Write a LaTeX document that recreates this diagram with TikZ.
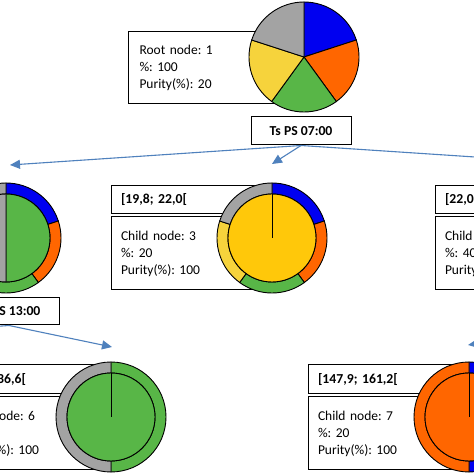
\documentclass[tikz,border=0pt]{standalone}
\usepackage{fontspec}
\setmainfont{Carlito}
\usetikzlibrary{arrows.meta}
\frenchspacing
\definecolor{cblue}{HTML}{0000F0}
\definecolor{corange}{HTML}{FF6600}
\definecolor{cgreen}{HTML}{58B647}
\definecolor{cyellow}{HTML}{F6D33C}
\definecolor{cgold}{HTML}{FFC80A}
\definecolor{cgray}{HTML}{A3A3A3}
\definecolor{arrowblue}{HTML}{4F81BD}
\newcommand{\ringseg}[4]{%
  \filldraw[fill=#4,draw=black,line width=0.9pt,shift={(#1)}]
    (#2:55) arc[start angle=#2,end angle=#3,radius=55] -- (#3:44)
    arc[start angle=#3,end angle=#2,radius=44] -- cycle;}
\newcommand{\pieseg}[5]{%
  \filldraw[fill=#5,draw=black,line width=0.9pt,shift={(#1)}]
    (0,0) -- (#2:#4) arc[start angle=#2,end angle=#3,radius=#4] -- cycle;}
\newcommand{\fulldisk}[2]{%
  \filldraw[fill=#2,draw=black,line width=0.9pt,shift={(#1)}] (0,0) circle[radius=44];
  \draw[black,line width=0.9pt,shift={(#1)}] (0,0) -- (90:44);}
\newcommand{\parentring}[1]{%
  \ringseg{#1}{90}{18}{cblue}
  \ringseg{#1}{18}{-54}{corange}
  \ringseg{#1}{-54}{-126}{cgreen}
  \ringseg{#1}{-126}{-198}{cyellow}
  \ringseg{#1}{162}{90}{cgray}}
\tikzset{
  boxst/.style={draw=black,line width=1pt,fill=white,inner ysep=0pt,inner xsep=10pt,align=left},
  infobox/.style={boxst,text width=134pt,minimum height=73pt,font=\fontsize{13.5}{17}\selectfont},
  labelbox/.style={boxst,text width=134pt,minimum height=28pt,font=\fontsize{13.7}{16}\selectfont\bfseries},
  tsbox/.style={draw=black,line width=1pt,fill=white,minimum width=100pt,minimum height=28pt,inner sep=0pt,font=\fontsize{13.7}{16}\selectfont\bfseries},
  conn/.style={draw=arrowblue,line width=1.1pt,-{Triangle[length=10pt,width=9pt]}}
}
\begin{document}
\begin{tikzpicture}[x=1pt,y=1pt]
\useasboundingbox (0,0) rectangle (474,474);
\clip (0,0) rectangle (474,474);
\fill[white] (0,0) rectangle (474,474);

% centres
\coordinate (c1) at (304,417);
\coordinate (c2) at (6,236);
\coordinate (c3) at (272,236);
\coordinate (c6) at (111,57);
\coordinate (c7) at (469,57);
% arrow ends
\coordinate (a2) at (10,309);
\coordinate (a3) at (272,310);
\coordinate (a4) at (596,309);
\coordinate (a5) at (-290,127);
\coordinate (a6) at (112,127);
\coordinate (a7) at (468,129);
\coordinate (ts4s) at (599,149);

% root
\node[boxst,text width=127pt,inner xsep=11pt,minimum height=72pt,font=\fontsize{13.5}{17}\selectfont] (rootbox) at (203,406)
  {Root node: 1\\ \%: 100\\ Purity(\%): 20};
\pieseg{c1}{90}{18}{55}{cblue}
\pieseg{c1}{18}{-54}{55}{corange}
\pieseg{c1}{-54}{-126}{55}{cgreen}
\pieseg{c1}{-126}{-198}{55}{cyellow}
\pieseg{c1}{162}{90}{55}{cgray}
\node[tsbox] (ts1) at (301,343) {Ts PS 07:00};

% left child (node 2)
\parentring{c2}
\pieseg{c2}{90}{-90}{44}{cgreen}
\pieseg{c2}{90}{270}{44}{cgray}
\node[tsbox,minimum height=27pt] (ts2) at (9,162.5) {Ts PS 13:00};

% middle child (node 3)
\node[labelbox] (lab3) at (188,274) {[19,8; 22,0[};
\node[infobox] (inf3) at (188,220.5) {Child node: 3\\ \%: 20\\ Purity(\%): 100};
\parentring{c3}
\fulldisk{c3}{cgold}

% right child (node 4), mostly outside
\node[labelbox] (lab4) at (512,274) {[22,0; 161,2[};
\node[infobox] (inf4) at (512,220.5) {Child node: 4\\ \%: 40\\ Purity(\%): 50};

% node 6
\node[labelbox,minimum height=29pt] (lab6) at (27,94.5) {[22,3; 36,6[};
\node[infobox] (inf6) at (27,40.5) {Child node: 6\\ \%: 20\\ Purity(\%): 100};
\ringseg{c6}{90}{-90}{cgreen}
\ringseg{c6}{90}{270}{cgray}
\fulldisk{c6}{cgreen}

% node 7
\node[labelbox,minimum height=29pt] (lab7) at (385,94.5) {[147,9; 161,2[};
\node[infobox] (inf7) at (385,40.5) {Child node: 7\\ \%: 20\\ Purity(\%): 100};
\ringseg{c7}{90}{-90}{cblue}
\ringseg{c7}{90}{270}{corange}
\fulldisk{c7}{corange}

% connectors
\draw[conn] (ts1.south) -- (a2);
\draw[conn] (ts1.south) -- (a3);
\draw[conn] (ts1.south) -- (a4);
\draw[conn] (ts2.south) -- (a6);
\draw[conn] (ts2.south) -- (a5);
\draw[conn] (ts4s) -- (a7);
\end{tikzpicture}
\end{document}
